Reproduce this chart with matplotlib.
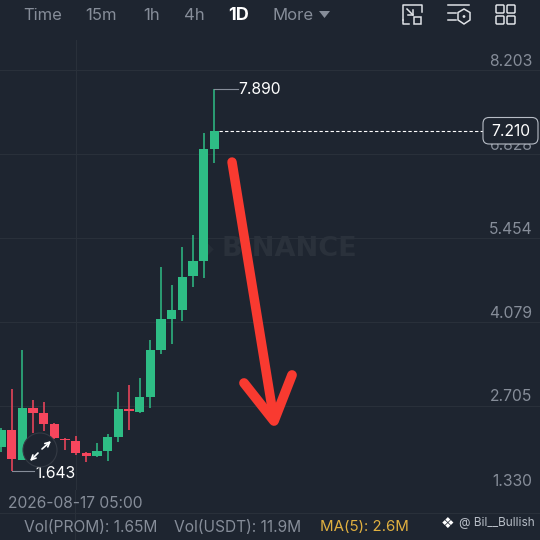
import matplotlib
matplotlib.use('Agg')
import matplotlib.pyplot as plt
from matplotlib.patches import Rectangle, Circle, Polygon, FancyBboxPatch

plt.rcParams['font.family'] = ['Inter', 'DejaVu Sans']

# candles, left to right, prices
opens = [2.034, 2.312, 1.821, 2.664, 2.595, 2.410, 2.165, 2.132, 1.936, 1.886, 1.973,
         2.202, 2.661, 2.611, 2.857, 3.621, 4.129, 4.276, 4.832, 5.078, 6.911]
closes = [2.312, 1.837, 2.672, 2.598, 2.405, 2.181, 2.148, 1.936, 1.886, 1.968, 2.202,
          2.656, 2.623, 2.857, 3.621, 4.129, 4.276, 4.821, 5.078, 6.906, 7.210]
highs = [2.340, 2.978, 3.621, 2.803, 2.775, 2.427, 2.181, 2.214, 1.957, 2.104, 2.247,
         2.934, 3.048, 3.163, 3.785, 4.980, 4.685, 5.307, 5.503, 7.178, 7.890]
lows = [1.957, 1.643, 1.820, 2.263, 2.300, 2.165, 1.985, 1.903, 1.788, 1.875, 1.810,
        2.120, 2.312, 2.590, 2.672, 3.556, 3.720, 4.100, 4.657, 4.805, 6.682]
price_ticks = [8.203, 6.828, 5.454, 4.079, 2.705, 1.330]
last_price = 7.210
top_price = 7.890
low_price = 1.643
intervals = ['Time', '15m', '1h', '4h', '1D', 'More']

BG = '#1e2530'
GRID = '#2a313b'
GREEN = '#2ebd85'
RED = '#f6465d'
GREY = '#868d99'
LIGHT = '#b7bdc6'
ICON = '#dfe2e6'
ARROW = '#f93a30'

fig = plt.figure(figsize=(5.4, 5.4), dpi=100, facecolor=BG)

# price chart, 40px to 490px from the top
ax = fig.add_axes([0, 50 / 540, 1, 450 / 540])
ax.set_facecolor(BG)
ax.set_ylim(1.33, 1.33 + 450 / 61.1)
step = 10.67
ax.set_xlim(-1 / step, 539 / step)
ax.axis('off')

# pixel coordinates for everything that is not a candle
ov = fig.add_axes([0, 0, 1, 1])
ov.set_xlim(0, 540)
ov.set_ylim(540, 0)
ov.axis('off')
ov.patch.set_alpha(0)

for p in price_ticks:
    ax.axhline(p, color=GRID, linewidth=0.7, zorder=1)
ax.axvline(75 / step, color=GRID, linewidth=0.7, zorder=1)

# watermark sits under the candles
ax.text(207, 249, '◆', color='#262d37', fontsize=13, ha='center', va='center', zorder=2,
        transform=ov.transData, family=['DejaVu Sans'])
ax.text(222, 249, 'BINANCE', color='#2a313b', fontsize=19.5, fontweight='bold', va='center',
        zorder=2, transform=ov.transData, family=['DejaVu Sans'])

for i in range(len(opens)):
    col = GREEN if closes[i] >= opens[i] else RED
    ax.vlines(i, lows[i], highs[i], color=col, linewidth=1.1, zorder=3)
    bottom = min(opens[i], closes[i])
    ax.add_patch(Rectangle((i - 0.43, bottom), 0.86, abs(closes[i] - opens[i]),
                           facecolor=col, edgecolor='none', zorder=3))

# high and low markers
last = len(opens) - 1
ax.plot([last, last + 2.2], [top_price, top_price], color=GREY, linewidth=0.8, zorder=4)
ax.plot([1, 3.1], [low_price, low_price], color=GREY, linewidth=0.8, zorder=4)
ax.plot([last + 0.4, 482 / step], [last_price, last_price], color='white', linewidth=0.8,
        linestyle=(0, (3, 2)), zorder=4)

for p in price_ticks:
    y = 490 - (p - 1.33) * 61.1 - 9
    ov.text(532, y, f'{p:.3f}', color=GREY, fontsize=11.3, ha='right', va='center')

ov.text(238, 89, f'{top_price:.3f}', color='white', fontsize=11.3, va='center')
ov.text(35, 473, f'{low_price:.3f}', color='white', fontsize=11.3, va='center')

# price tag
ov.add_patch(FancyBboxPatch((483, 117.5), 55, 26.5, boxstyle='round,pad=0,rounding_size=6',
                            facecolor=BG, edgecolor=LIGHT, linewidth=0.8, zorder=5))
ov.text(511, 131, f'{last_price:.3f}', color='white', fontsize=11.3, ha='center', va='center', zorder=6)

# top bar
xs = [23, 85, 143, 184, 228, 272]
for x, lab in zip(xs, intervals):
    selected = lab == '1D'
    ov.text(x, 15, lab, color='white' if selected else GREY, fontsize=13 if selected else 12,
            fontweight='bold' if selected else 'normal', va='center', ha='left')
ov.add_patch(Polygon([(319, 11), (330, 11), (324.5, 18)], closed=True, facecolor=GREY, edgecolor='none'))

# toolbar icons
ic = dict(fill=False, edgecolor=ICON, linewidth=1.1)
ov.plot([403, 403, 422, 422], [20, 5, 5, 12], color=ICON, linewidth=1.1)
ov.plot([403, 403, 409], [20, 24, 24], color=ICON, linewidth=1.1)
ov.add_patch(Rectangle((414, 17), 7, 7, **ic))
ov.plot([407, 413], [9, 15], color=ICON, linewidth=1.1)
ov.plot([413, 413, 408], [10, 15, 15], color=ICON, linewidth=1.1)
for y, x0, x1 in [(5, 448, 469), (13, 448, 456), (20, 448, 456)]:
    ov.plot([x0, x1], [y, y], color=ICON, linewidth=1.1)
ov.add_patch(Polygon([(464, 9), (470, 12.5), (470, 20), (464, 24), (458, 20), (458, 12.5)],
                     closed=True, **ic))
ov.add_patch(Circle((464, 16.5), 1.4, facecolor=ICON, edgecolor='none'))
for x in (496, 507):
    for y in (5, 16):
        ov.add_patch(FancyBboxPatch((x, y), 8, 8, boxstyle='round,pad=0,rounding_size=1', **ic))

# expand button
ov.add_patch(Circle((40, 450), 17, facecolor=BG, edgecolor='#343a44', linewidth=0.8, zorder=5))
ov.annotate('', xy=(51, 441), xytext=(42, 449), zorder=6,
            arrowprops=dict(arrowstyle='->', color='white', linewidth=1.2, mutation_scale=8,
                            shrinkA=0, shrinkB=0))
ov.annotate('', xy=(30, 461), xytext=(38, 453), zorder=6,
            arrowprops=dict(arrowstyle='->', color='white', linewidth=1.2, mutation_scale=8,
                            shrinkA=0, shrinkB=0))

# footer
ov.plot([0, 540], [513, 513], color=GRID, linewidth=0.7)
ov.plot([75, 75], [490, 540], color=GRID, linewidth=0.7, zorder=0)
ov.text(8, 504, '2026-08-17 05:00', color=GREY, fontsize=11.2, va='center')
ov.text(24, 527, 'Vol(PROM): 1.65M', color=GREY, fontsize=11.2, va='center')
ov.text(174, 527, 'Vol(USDT): 11.9M', color=GREY, fontsize=11.2, va='center')
ov.text(320, 527, 'MA(5): 2.6M', color='#e0b040', fontsize=10.8, va='center')
ov.text(441, 523, '❖', color='white', fontsize=11, va='center', family=['DejaVu Sans'])
ov.text(459, 523, '@ Bil__Bullish', color=LIGHT, fontsize=8.5, va='center')

# red arrow drawn on top of the screenshot
ov.plot([232, 274], [162, 420], color=ARROW, linewidth=6.8, solid_capstyle='round', zorder=8)
ov.plot([244, 274, 292], [383, 421, 375], color=ARROW, linewidth=7, solid_capstyle='round',
        solid_joinstyle='round', zorder=8)

fig.savefig('out.png', dpi=100, facecolor=BG)
